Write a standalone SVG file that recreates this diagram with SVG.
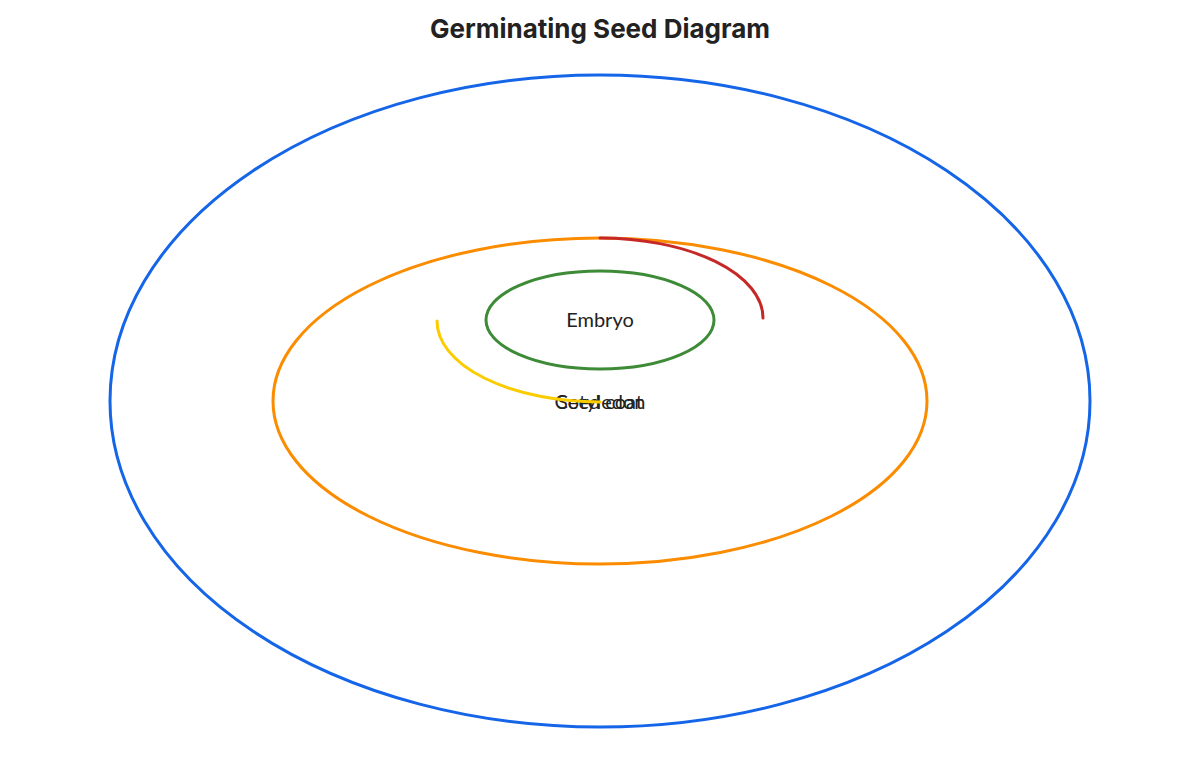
<svg xmlns="http://www.w3.org/2000/svg" width="1200" height="763" viewBox="0 0 1200 763">
<style>
.s{fill:none;stroke-width:3;stroke-linecap:round}
.l{font-family:"Lato","Liberation Sans",sans-serif;font-size:20px;fill:#222;text-anchor:middle}
</style>
<rect width="1200" height="763" fill="#fff"/>
<text x="600" y="38" font-family="Inter,'Liberation Sans',sans-serif" font-size="26" font-weight="bold" fill="#222" text-anchor="middle">Germinating Seed Diagram</text>
<g id="seed-outer"><ellipse cx="600" cy="401" rx="490" ry="326" class="s" stroke="#1565e8"/></g>
<g id="seed-coat"><ellipse cx="600" cy="401" rx="327" ry="163" class="s" stroke="#fb8c00"/><text x="600" y="409" class="l">Seed coat</text></g>
<g id="embryo"><ellipse cx="600" cy="320" rx="114" ry="49" class="s" stroke="#3d8b37"/><text x="600" y="327" class="l">Embryo</text></g>
<g id="cotyledon"><text x="600" y="409" class="l">Cotyledon</text></g>
<g id="connectors">
<path d="M600 238 A163 80 0 0 1 763 318" class="s" stroke="#c62828" stroke-width="4"/>
<path d="M437 321 A163 81 0 0 0 600 402" class="s" stroke="#fbcc00" stroke-width="4"/>
</g>
</svg>
